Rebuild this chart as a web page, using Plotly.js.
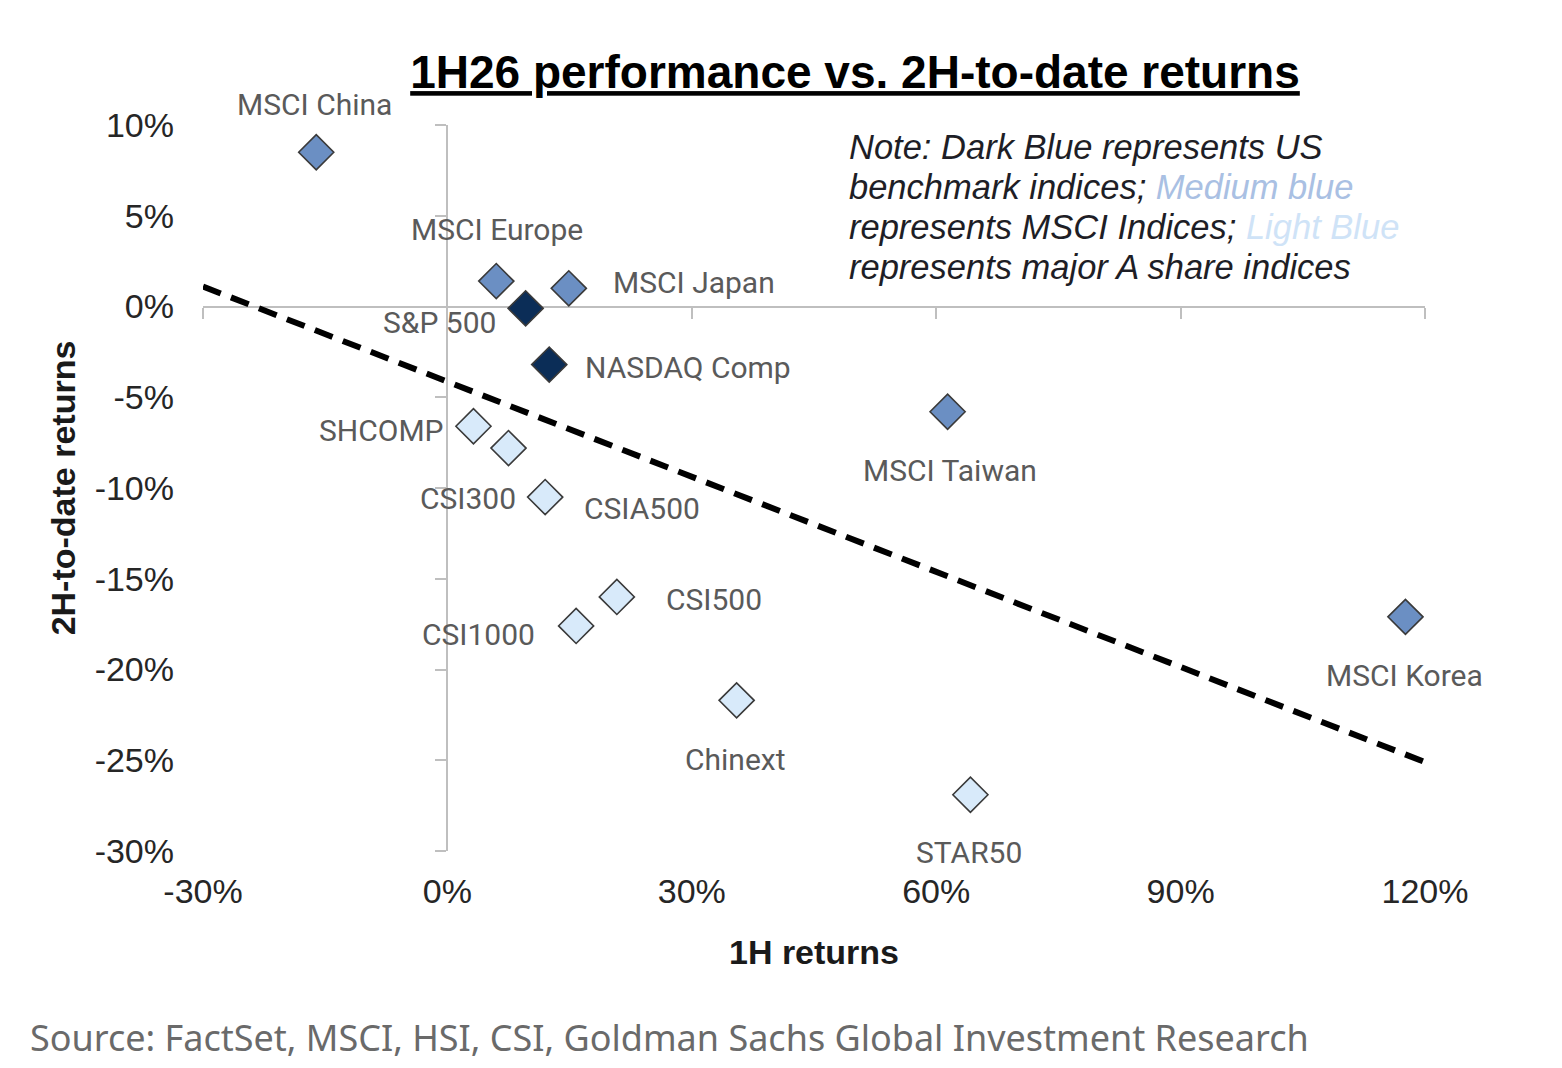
<!DOCTYPE html>
<html>
<head>
<meta charset="utf-8">
<script src="https://cdn.plot.ly/plotly-3.0.1.min.js"></script>
<style>html,body{margin:0;padding:0;background:#fff;}#chart{width:1562px;height:1068px;}</style>
</head>
<body>
<div id="chart"></div>
<script>
// ---- data ----
const names = ["MSCI China","MSCI Europe","MSCI Japan","S&P 500","NASDAQ Comp","SHCOMP","CSI300","CSIA500","CSI500","CSI1000","Chinext","STAR50","MSCI Taiwan","MSCI Korea"];
const firstHalf = [-16.1, 6.0, 14.9, 9.6, 12.5, 3.2, 7.5, 12.0, 20.8, 15.8, 35.5, 64.2, 61.4, 117.6];
const secondHalf = [8.5, 1.4, 1.0, -0.1, -3.2, -6.6, -7.8, -10.5, -16.0, -17.6, -21.7, -26.9, -5.8, -17.1];
const groups = ["msci","msci","msci","us","us","ashare","ashare","ashare","ashare","ashare","ashare","ashare","msci","msci"];
const trendX = [-30, 120];
const trendY = [1.1, -25.1];
const xTicks = [-30, 0, 30, 60, 90, 120];
const yTicks = [-30, -25, -20, -15, -10, -5, 0, 5, 10];

// ---- styles ----
const groupColor = {us: "#0b2d57", msci: "#6b8fc3", ashare: "#d8eafa"};
// label placement: [xshift px, yshift px, xanchor]
const labelPlace = {
  "MSCI China": [-2, 48, "center"],
  "MSCI Europe": [1, 52, "center"],
  "MSCI Japan": [42, 6, "left"],
  "S&P 500": [-28, -14, "right"],
  "NASDAQ Comp": [34, -3, "left"],
  "SHCOMP": [-27, -4, "right"],
  "CSI300": [9, -50, "right"],
  "CSIA500": [37, -11, "left"],
  "CSI500": [47, -3, "left"],
  "CSI1000": [-39, -9, "right"],
  "Chinext": [-1, -59, "center"],
  "STAR50": [-1, -58, "center"],
  "MSCI Taiwan": [2, -59, "center"],
  "MSCI Korea": [-1, -59, "center"]
};

const tickFont = {family: "Liberation Sans, Arial, sans-serif", size: 34, color: "#262626"};
const labelFont = {family: "Roboto, sans-serif", size: 30, color: "#5a5a5a"};

const traces = [
  {
    x: trendX, y: trendY, xaxis: "x", yaxis: "y",
    mode: "lines", type: "scatter", hoverinfo: "skip", showlegend: false,
    line: {color: "#000000", width: 6, dash: "19px,11px"}
  },
  {
    x: firstHalf, y: secondHalf, text: names, xaxis: "x2", yaxis: "y2",
    mode: "markers", type: "scatter", showlegend: false, cliponaxis: false,
    marker: {symbol: "diamond", size: 27, color: groups.map(g => groupColor[g]),
             line: {color: "#3a3a3a", width: 1.6}}
  }
];

const annotations = names.map((n, i) => ({
  x: firstHalf[i], y: secondHalf[i], xref: "x2", yref: "y2",
  text: n, showarrow: false, font: labelFont,
  xshift: labelPlace[n][0], yshift: labelPlace[n][1],
  xanchor: labelPlace[n][2], yanchor: "middle"
}));

const noteFont = {family: "Liberation Sans, Arial, sans-serif", size: 34.5, color: "#1e1e26", style: "italic"};
const noteLines = [
  "Note: Dark Blue represents US",
  "benchmark indices; <span style='color:#a9c0e3'>Medium blue</span>",
  "represents MSCI Indices; <span style='color:#cfe3f7'>Light Blue</span>",
  "represents major A share indices"
];
const noteY = [147, 187, 227, 267];
noteLines.forEach((t, i) => annotations.push({
  xref: "paper", yref: "paper", x: (847 - 203) / 1222, y: (851 - noteY[i]) / 726,
  xanchor: "left", yanchor: "middle", text: t, showarrow: false, font: noteFont
}));

annotations.push({
  xref: "paper", yref: "paper", x: (28 - 203) / 1222, y: (851 - 1037) / 726,
  xanchor: "left", yanchor: "middle", showarrow: false,
  text: "Source: FactSet, MSCI, HSI, CSI, Goldman Sachs Global Investment Research",
  font: {family: "Noto Sans, sans-serif", size: 36, color: "#6a6a6a"}
});

const layout = {
  width: 1562, height: 1068,
  margin: {l: 203, r: 137, t: 125, b: 217},
  paper_bgcolor: "#ffffff", plot_bgcolor: "#ffffff",
  showlegend: false,
  title: {
    text: "<b>1H26 performance vs. 2H-to-date returns</b>",
    font: {family: "Liberation Sans, Arial, sans-serif", size: 46, color: "#000000", lineposition: "under"},
    xref: "container", yref: "container", x: 855 / 1562, xanchor: "center",
    y: 1 - 72 / 1068, yanchor: "middle"
  },
  xaxis: {
    range: [-30, 120], tickvals: xTicks, ticktext: xTicks.map(v => v + "%"),
    showgrid: false, zeroline: false, showline: false, ticks: "",
    ticklabelstandoff: 17, tickfont: tickFont, fixedrange: true,
    title: {text: "<b>1H returns</b>", font: {family: "Liberation Sans, Arial, sans-serif", size: 34, color: "#1a1a1a"}, standoff: 31}
  },
  yaxis: {
    range: [-30, 10], tickvals: yTicks, ticktext: yTicks.map(v => v + "%"),
    showgrid: false, zeroline: false, showline: false, ticks: "",
    ticklabelstandoff: 28, tickfont: tickFont, fixedrange: true,
    title: {text: "<b>2H-to-date returns</b>", font: {family: "Liberation Sans, Arial, sans-serif", size: 34, color: "#1a1a1a"}, standoff: 8}
  },
  xaxis2: {
    overlaying: "x", anchor: "free", position: 0.75, side: "bottom",
    range: [-30, 120], tickvals: xTicks, showticklabels: false,
    showgrid: false, zeroline: false, showline: true, linecolor: "#bfbfbf", linewidth: 2,
    ticks: "outside", ticklen: 11, tickwidth: 2, tickcolor: "#bfbfbf", layer: "below traces", fixedrange: true
  },
  yaxis2: {
    overlaying: "y", anchor: "free", position: 0.2, side: "left",
    range: [-30, 10], tickvals: yTicks, showticklabels: false,
    showgrid: false, zeroline: false, showline: true, linecolor: "#bfbfbf", linewidth: 2,
    ticks: "outside", ticklen: 11, tickwidth: 2, tickcolor: "#bfbfbf", layer: "below traces", fixedrange: true
  },
  annotations: annotations
};

Plotly.newPlot("chart", traces, layout, {staticPlot: true, displayModeBar: false});
</script>
</body>
</html>
